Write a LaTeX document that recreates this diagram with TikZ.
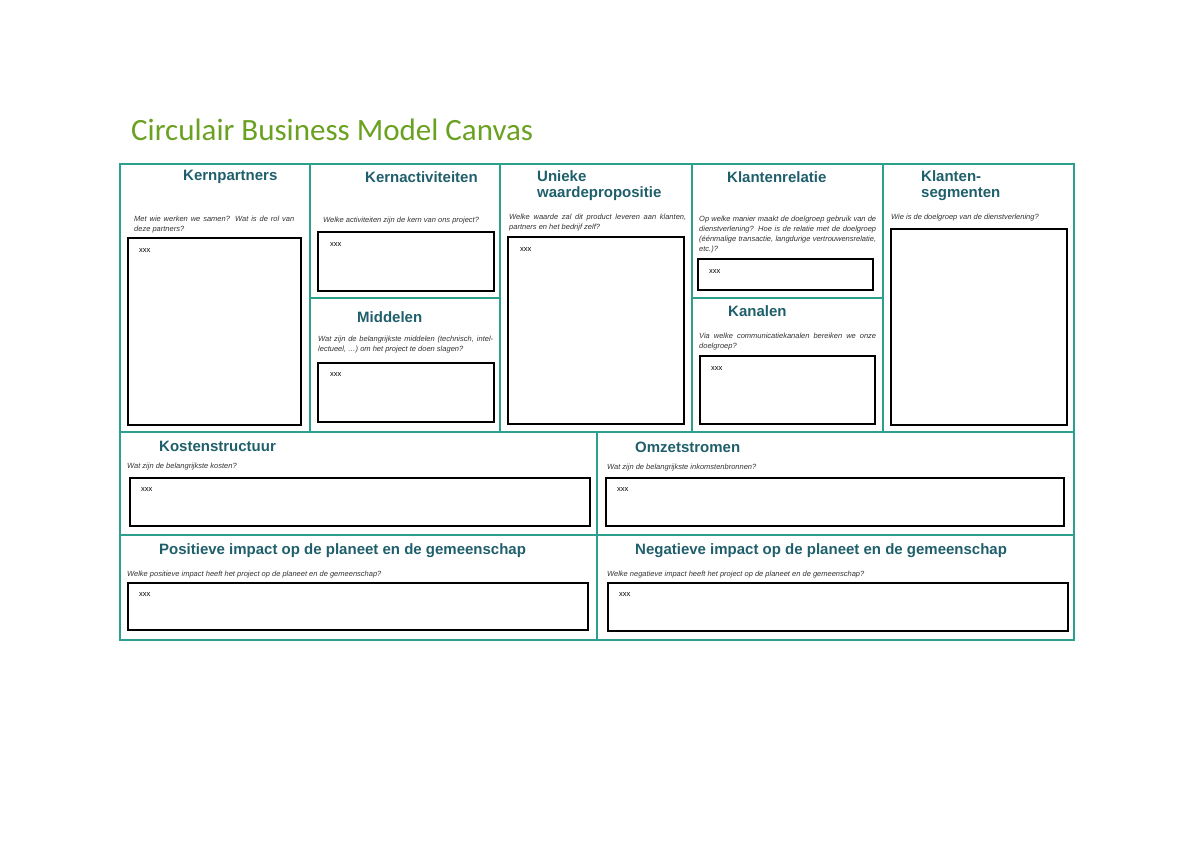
\documentclass[tikz,border=0pt]{standalone}
\usepackage{fontspec}
\setmainfont{Liberation Sans}
\newfontfamily\calib{Carlito}
\definecolor{teal1}{RGB}{44,160,140}
\definecolor{head}{RGB}{31,95,107}
\definecolor{ttl}{RGB}{106,161,33}
\begin{document}
\begin{tikzpicture}[x=1pt,y=-1pt,
 cell/.style={draw=teal1,line width=2.5pt},
 inbox/.style={draw=black,line width=1.6pt},
 hd/.style={text=head,font=\bfseries\fontsize{15}{18}\selectfont,inner sep=0,anchor=west,align=left},
 q/.style={font=\itshape\fontsize{7.5}{10}\selectfont,inner sep=0,anchor=north west,align=justify,text=black!80},
 xx/.style={font=\fontsize{7.5}{9}\selectfont,inner sep=0,anchor=north west}]
\useasboundingbox (0,0) rectangle (1200,849);
\node[anchor=west,inner sep=0,text=ttl,font=\calib\fontsize{31}{36}\selectfont] (title) at (131,130) {Circulair Business Model Canvas};
% cells
\draw[cell] (120,164) rectangle (310,432);
\draw[cell] (310,164) rectangle (500,298);
\draw[cell] (310,298) rectangle (500,432);
\draw[cell] (500,164) rectangle (692,432);
\draw[cell] (692,164) rectangle (883,298);
\draw[cell] (692,298) rectangle (883,432);
\draw[cell] (883,164) rectangle (1074,432);
\draw[cell] (120,432) rectangle (597,535);
\draw[cell] (597,432) rectangle (1074,535);
\draw[cell] (120,535) rectangle (597,640);
\draw[cell] (597,535) rectangle (1074,640);
% inner boxes
\draw[inbox] (128,238) rectangle (301,425);
\draw[inbox] (318,232) rectangle (494,291);
\draw[inbox] (318,363) rectangle (494,422);
\draw[inbox] (508,237) rectangle (684,424);
\draw[inbox] (698,259) rectangle (873,290);
\draw[inbox] (700,356) rectangle (875,424);
\draw[inbox] (891,229) rectangle (1067,425);
\draw[inbox] (130,478) rectangle (590,526);
\draw[inbox] (606,478) rectangle (1064,526);
\draw[inbox] (128,583) rectangle (588,630);
\draw[inbox] (608,583) rectangle (1068,631);
% headings
\node[hd] (h1) at (183,177) {Kernpartners};
\node[hd] (h2) at (365,177) {Kernactiviteiten};
\node[hd,anchor=north west] (h3) at (537,170) {Unieke\\[-2pt]waardepropositie};
\node[hd] (h4) at (727,177) {Klantenrelatie};
\node[hd,anchor=north west] (h5) at (921,170) {Klanten-\\[-2pt]segmenten};
\node[hd] (h6) at (357,317) {Middelen};
\node[hd] (h7) at (728,311) {Kanalen};
\node[hd] (h8) at (159,446) {Kostenstructuur};
\node[hd] (h9) at (635,447) {Omzetstromen};
\node[hd] (h10) at (159,551) {Positieve impact op de planeet en de gemeenschap};
\node[hd] (h11) at (635,551) {Negatieve impact op de planeet en de gemeenschap};
% questions
\node[q,text width=160] (q1) at (134,216) {Met wie werken we samen? Wat is de rol van deze partners?};
\node[q] (q2) at (323,217) {Welke activiteiten zijn de kern van ons project?};
\node[q,text width=175] (q3) at (318,336) {Wat zijn de belangrijkste middelen (technisch, intellectueel, \dots) om het project te doen slagen?};
\node[q,text width=177] (q4) at (509,214) {Welke waarde zal dit product leveren aan klanten, partners en het bedrijf zelf?};
\node[q,text width=177] (q5) at (699,216) {Op welke manier maakt de doelgroep gebruik van de dienstverlening? Hoe is de relatie met de doelgroep (éénmalige transactie, langdurige vertrouwensrelatie, etc.)?};
\node[q,text width=177] (q6) at (699,333) {Via welke communicatiekanalen bereiken we onze doelgroep?};
\node[q] (q7) at (891,214) {Wie is de doelgroep van de dienstverlening?};
\node[q] (q8) at (127,463) {Wat zijn de belangrijkste kosten?};
\node[q] (q9) at (607,464) {Wat zijn de belangrijkste inkomstenbronnen?};
\node[q] (q10) at (127,571) {Welke positieve impact heeft het project op de planeet en de gemeenschap?};
\node[q] (q11) at (607,571) {Welke negatieve impact heeft het project op de planeet en de gemeenschap?};
% xxx
\node[xx] at (139,248) {xxx};
\node[xx] at (330,242) {xxx};
\node[xx] at (330,372) {xxx};
\node[xx] at (520,247) {xxx};
\node[xx] at (709,269) {xxx};
\node[xx] at (711,366) {xxx};
\node[xx] at (141,487) {xxx};
\node[xx] at (617,487) {xxx};
\node[xx] at (139,592) {xxx};
\node[xx] at (619,592) {xxx};
\end{tikzpicture}
\end{document}
